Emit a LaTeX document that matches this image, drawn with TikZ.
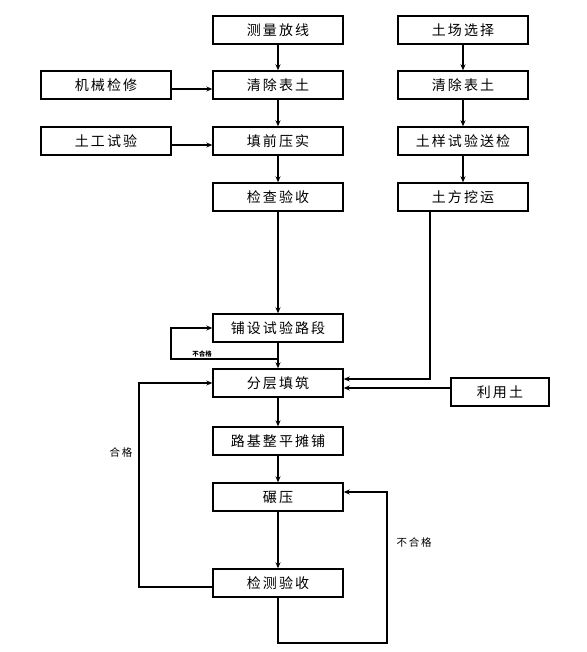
\documentclass[tikz,border=0pt]{standalone}
\usepackage{fontspec}
\setmainfont{Noto Sans CJK SC}
\newfontfamily\cjk[LetterSpace=15]{Noto Sans CJK SC}
\usetikzlibrary{arrows.meta,positioning,calc}
\begin{document}
\begin{tikzpicture}[x=1pt,y=-1pt,
        bx/.style={draw, line width=1.4pt, minimum width=130pt, minimum height=28pt,
                   inner sep=0pt, font=\cjk\fontsize{14}{16}\selectfont},
        arr/.style={-{Stealth[length=6pt,width=5pt]},line width=1.4pt},
        ln/.style={line width=1.4pt},
        lbl/.style={font=\fontsize{10.5}{12}\selectfont, inner sep=0pt}
      ]
        \useasboundingbox (0,0) rectangle (586,652);
        % Main column
        \node[bx] (clfx) at (278,30)  {测量放线};
        \node[bx] (qcbt) at (278,85)  {清除表土};
        \node[bx] (tqys) at (278,141) {填前压实};
        \node[bx] (jcys) at (278,197) {检查验收};
        \node[bx] (pssy) at (278,328) {铺设试验路段};
        \node[bx] (fctz) at (278,383) {分层填筑};
        \node[bx] (ljzp) at (278,441) {路基整平摊铺};
        \node[bx] (ny)   at (278,497) {碾压};
        \node[bx] (jcyz) at (278,583) {检测验收};
        % Left column
        \node[bx] (jxjx) at (106,85)  {机械检修};
        \node[bx] (tgsy) at (106,141) {土工试验};
        % Right column
        \node[bx] (tcxz) at (463,30)  {土场选择};
        \node[bx] (qcbt2) at (463,85) {清除表土};
        \node[bx] (tysy) at (463,141) {土样试验送检};
        \node[bx] (tfwy) at (463,197) {土方挖运};
        \node[bx, minimum width=98pt] (lyt) at (500,392) {利用土};
        % Arrows: main column
        \draw[arr] (clfx) -- (qcbt);
        \draw[arr] (qcbt) -- (tqys);
        \draw[arr] (tqys) -- (jcys);
        \draw[arr] (jcys) -- (pssy);
        \draw[arr] (pssy) -- (fctz);
        \draw[arr] (fctz) -- (ljzp);
        \draw[arr] (ljzp) -- (ny);
        \draw[arr] (ny) -- (jcyz);
        % Arrows: right column
        \draw[arr] (tcxz) -- (qcbt2);
        \draw[arr] (qcbt2) -- (tysy);
        \draw[arr] (tysy) -- (tfwy);
        % Arrows: side inputs
        \draw[arr] ([yshift=-4pt]jxjx.east) -- ([yshift=-4pt]qcbt.west);
        \draw[arr] ([yshift=-4pt]tgsy.east) -- ([yshift=-4pt]tqys.west);
        \coordinate (tf) at (430,379);
        \draw[arr] (430,211) -- (tf) -- ([yshift=4pt]fctz.east);
        \draw[arr] ([yshift=4pt]lyt.west) -- ([yshift=-5pt]fctz.east);
        % Trial section loop
        \coordinate (ps) at (278,359);
        \draw[arr] (ps) -- (171,359) |- (pssy.west);
        \node[font=\bfseries\fontsize{6.5}{7}\selectfont, inner sep=0pt] (bhg1) at (202,354) {不合格};
        % Pass loop
        \draw[arr] ([yshift=-4pt]jcyz.west) -- (139,587) |- (fctz.west);
        \node[lbl] (hg) at (121,452) {合\,格};
        % Fail loop
        \coordinate (nyb) at (387,643);
        \draw[arr] (jcyz.south) |- (nyb) |- ([yshift=5pt]ny.east);
        \node[lbl] (bhg2) at (414,542) {不\,合\,格};
      \end{tikzpicture}
\end{document}
